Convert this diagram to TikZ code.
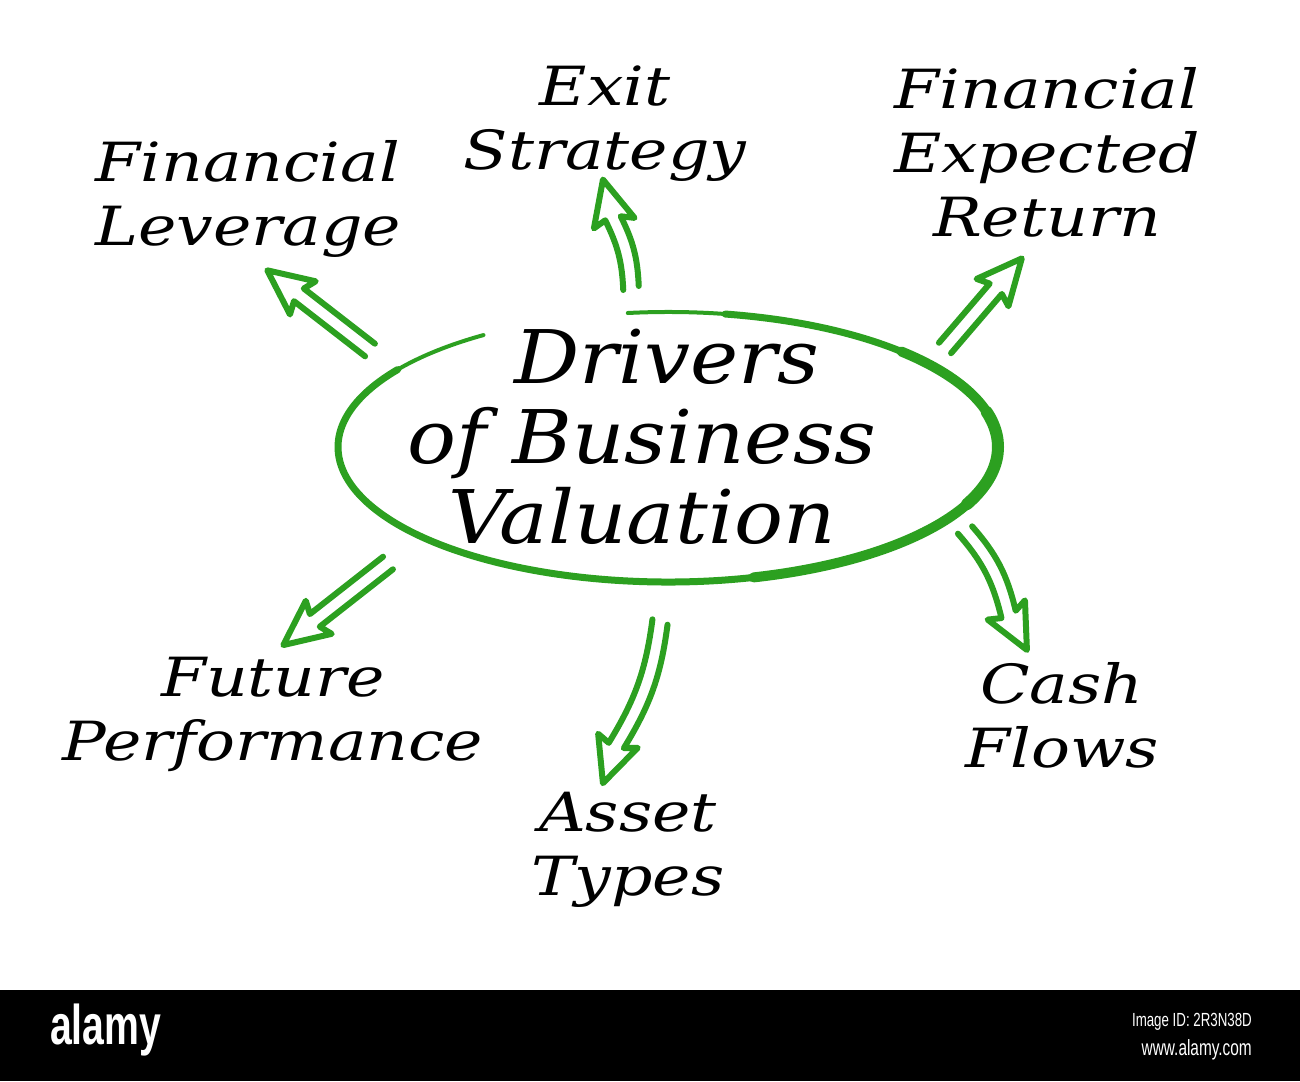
\documentclass[tikz,border=0pt]{standalone}
\usepackage{fontspec}
\newfontfamily\hand[FakeStretch=1.2]{DejaVu Serif}
\newfontfamily\handtitle[FakeStretch=1.1]{DejaVu Serif}
\newfontfamily\narrowsans[FakeStretch=0.7]{Liberation Sans}
\definecolor{brushgreen}{RGB}{44,160,32}
\tikzset{
  lbl/.style={align=center, font=\hand\itshape\fontsize{54}{64}\selectfont, text=black, inner sep=0pt},
  title/.style={align=center, font=\handtitle\itshape\fontsize{74}{80}\selectfont, text=black, inner sep=0pt},
  arrowline/.style={draw=brushgreen, line width=6pt, line join=round, line cap=round},
  ring/.style={draw=brushgreen, line cap=round}
}
\newcommand\hollowarrow[6]{% name, x, y, angle, shaft length, bend
  \coordinate (#1) at (#2,#3);
  \begin{scope}[shift={(#1)}, rotate=#4]
    \draw[arrowline] (0,-8) to[bend right=#6] (#5,-8) -- ({#5-5},-21) -- ({#5+40},0) -- ({#5-5},21) -- (#5,8) to[bend left=#6] (0,8);
  \end{scope}}
\begin{document}
\begin{tikzpicture}[x=1pt,y=-1pt]
\useasboundingbox (0,0) rectangle (1300,1081);
\fill[white] (0,0) rectangle (1300,990);
\fill[black] (0,990) rectangle (1300,1081);
% ellipse brush stroke
\coordinate (c) at (668,447);
\draw[ring, line width=4pt] (c) ++(-97:330 and 135) arc[start angle=-97, end angle=236, x radius=330, y radius=135];
\draw[ring, line width=7pt] (c) ++(-80:330 and 135) arc[start angle=-80, end angle=215, x radius=330, y radius=135];
\draw[ring, line width=10pt] (c) ++(-45:330 and 135) arc[start angle=-45, end angle=75, x radius=330, y radius=135];
\draw[ring, line width=12pt] (c) ++(-15:330 and 135) arc[start angle=-15, end angle=25, x radius=330, y radius=135];
\node[title] (center) at (642,437) {\hspace*{50pt}Drivers\\of Business\\Valuation};
% labels
\node[lbl] (exit) at (605,124) {Exit\\Strategy};
\node[lbl] (finlev) at (248,199) {Financial\\Leverage};
\node[lbl] (fer) at (1047,152) {Financial\\Expected\\Return};
\node[lbl] (futperf) at (273,714) {Future\\Performance};
\node[lbl] (asset) at (628,850) {Asset\\Types};
\node[lbl] (cash) at (1062,715) {Cash\\Flows};
% arrows
\hollowarrow{a1}{370}{350}{142.2}{90}{0}
\hollowarrow{a2}{631}{288}{104.5}{72}{12}
\hollowarrow{a3}{945}{348}{49.4}{78}{0}
\hollowarrow{a4}{388}{563}{218.1}{93}{0}
\hollowarrow{a5}{660}{622}{250.5}{131}{-12}
\hollowarrow{a6}{965}{530}{297.3}{95}{-14}
% watermark band
\node[text=white, font=\narrowsans\bfseries\fontsize{56}{56}\selectfont, anchor=west, inner sep=0pt] (alamy) at (50,1030) {alamy};
\node[text=white, font=\narrowsans\fontsize{19}{19}\selectfont, anchor=east, inner sep=0pt] (imgid) at (1252,1022) {Image ID: 2R3N38D};
\node[text=white, font=\narrowsans\fontsize{22}{22}\selectfont, anchor=east, inner sep=0pt] (www) at (1252,1050) {www.alamy.com};
\end{tikzpicture}
\end{document}
